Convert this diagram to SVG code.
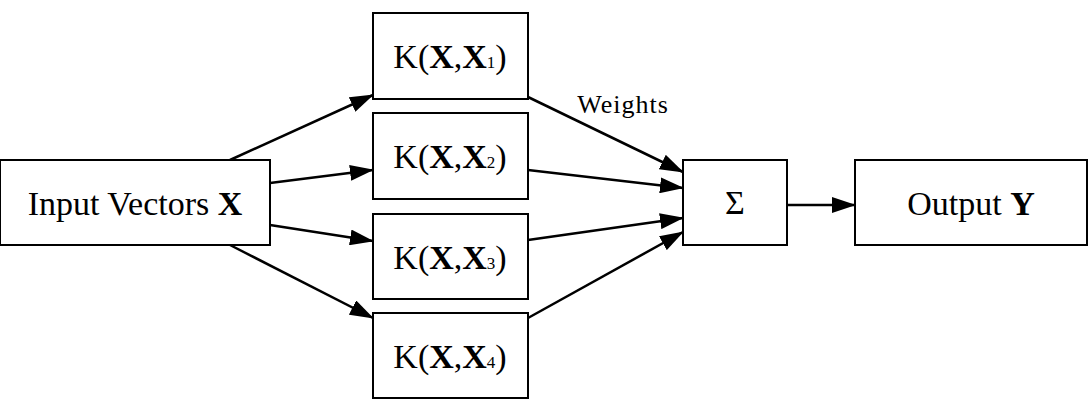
<svg xmlns="http://www.w3.org/2000/svg" width="1088" height="412" viewBox="0 0 1088 412">
<style>
.b{fill:#fff;stroke:#000;stroke-width:2}
.t{font-family:"Liberation Serif","Times New Roman",serif;font-size:34px;fill:#000;text-anchor:middle}
.s{font-size:17px}
.c line{stroke:#000;stroke-width:2.5;marker-end:url(#a)}
</style>
<defs><marker id="a" markerWidth="24" markerHeight="16" refX="23" refY="8" orient="auto" markerUnits="userSpaceOnUse" viewBox="0 0 24 16"><path d="M0,0L24,8L0,16z"/></marker></defs>
<rect width="1088" height="412" fill="#fff"/>
<g class="c">
<line x1="230" y1="160" x2="373" y2="95"/>
<line x1="270" y1="183" x2="373" y2="170"/>
<line x1="270" y1="225" x2="373" y2="241"/>
<line x1="230" y1="245" x2="373" y2="318"/>
<line x1="528" y1="97" x2="683" y2="172"/>
<line x1="528" y1="170" x2="683" y2="188"/>
<line x1="528" y1="240" x2="683" y2="218"/>
<line x1="528" y1="318" x2="683" y2="232"/>
<line x1="787" y1="205" x2="855" y2="205"/>
</g>
<g id="input"><rect class="b" x="0" y="160" width="270" height="85"/><text class="t" x="135" y="215">Input Vectors <tspan font-weight="bold">X</tspan></text></g>
<g id="k1"><rect class="b" x="373" y="13" width="155" height="86"/><text class="t" x="450" y="68">K(<tspan font-weight="bold">X</tspan>,<tspan font-weight="bold">X</tspan><tspan class="s">1</tspan>)</text></g>
<g id="k2"><rect class="b" x="373" y="113" width="155" height="86"/><text class="t" x="450" y="168">K(<tspan font-weight="bold">X</tspan>,<tspan font-weight="bold">X</tspan><tspan class="s">2</tspan>)</text></g>
<g id="k3"><rect class="b" x="373" y="214" width="155" height="85"/><text class="t" x="450" y="269">K(<tspan font-weight="bold">X</tspan>,<tspan font-weight="bold">X</tspan><tspan class="s">3</tspan>)</text></g>
<g id="k4"><rect class="b" x="373" y="313" width="155" height="85"/><text class="t" x="450" y="368">K(<tspan font-weight="bold">X</tspan>,<tspan font-weight="bold">X</tspan><tspan class="s">4</tspan>)</text></g>
<g id="sum"><rect class="b" x="683" y="160" width="104" height="85"/><text class="t" x="735" y="214">Σ</text></g>
<g id="output"><rect class="b" x="855" y="160" width="232" height="85"/><text class="t" x="971" y="215">Output <tspan font-weight="bold">Y</tspan></text></g>
<text class="t" x="623" y="113" style="font-size:26px;letter-spacing:1px">Weights</text>
</svg>
